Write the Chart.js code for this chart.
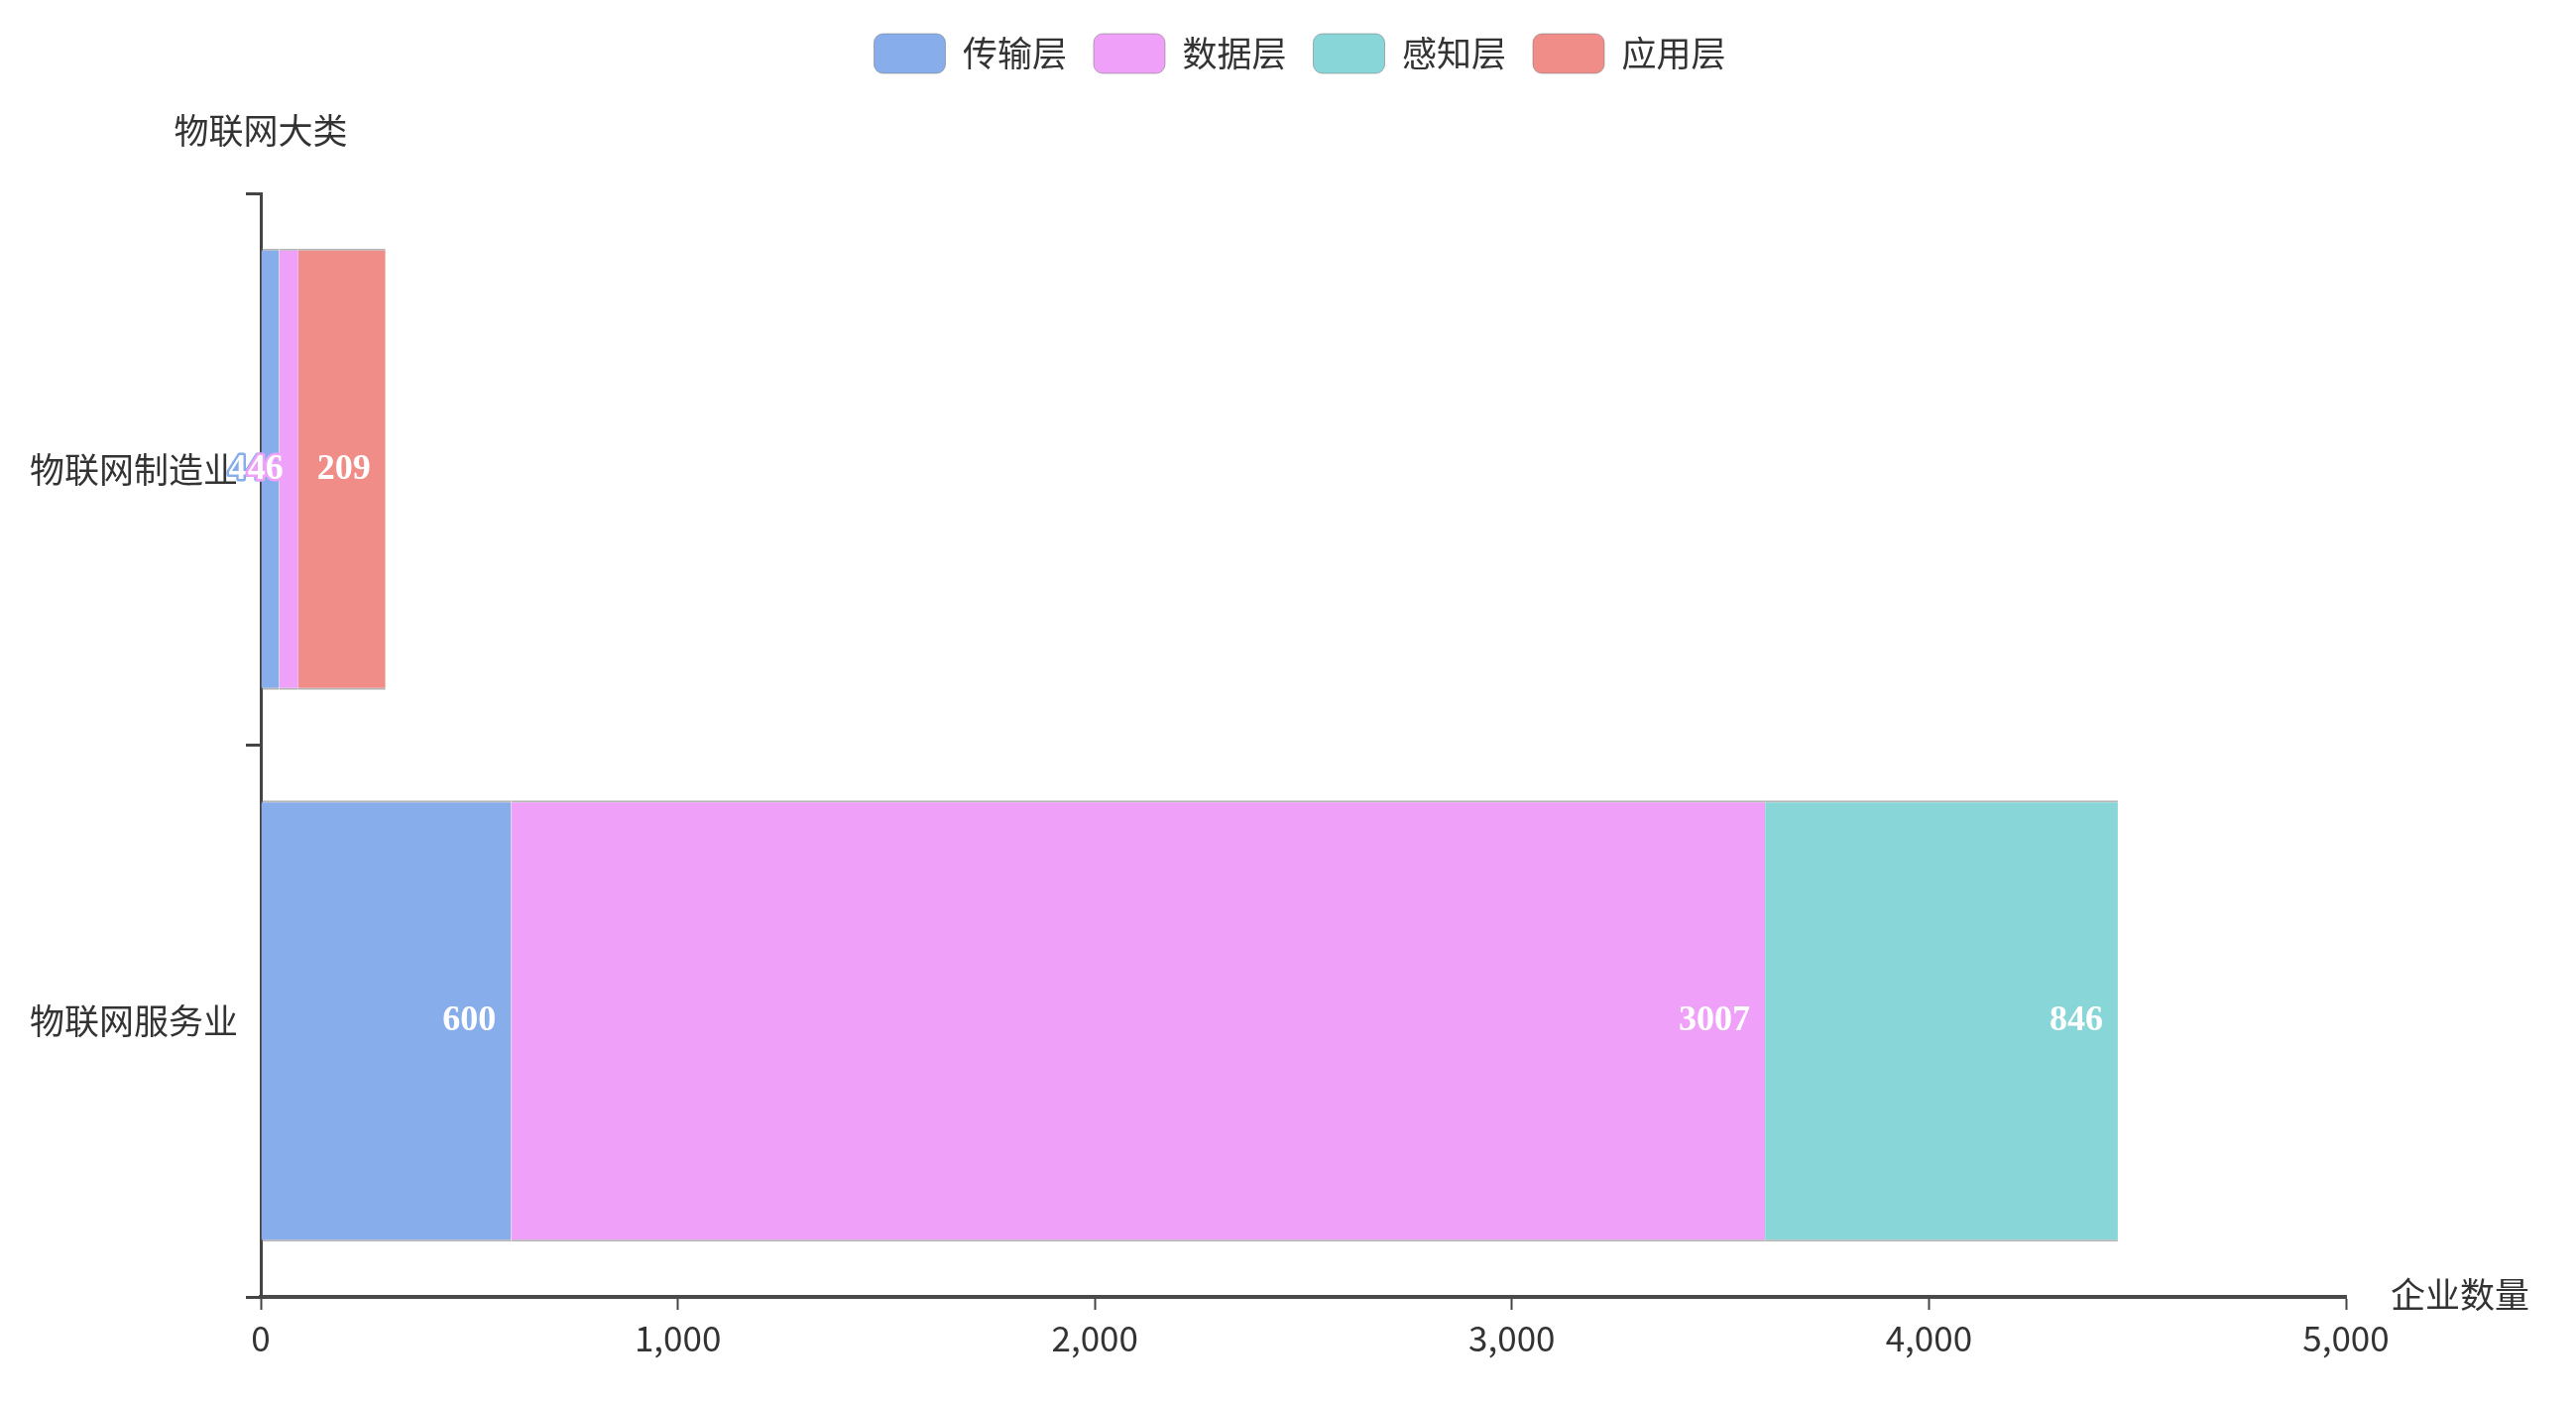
<!DOCTYPE html>
<html>
<head>
<meta charset="utf-8">
<script src="https://cdn.jsdelivr.net/npm/chart.js@4.4.1/dist/chart.umd.min.js"></script>
<style>
  html, body { margin: 0; padding: 0; background: #fff; }
  #wrap { width: 2598px; height: 1416px; }
</style>
</head>
<body>
<div id="wrap"><canvas id="iotChart"></canvas></div>
<script>
// categories and series (企业数量)
const categories = ['物联网制造业', '物联网服务业'];
const seriesNames = ['传输层', '数据层', '感知层', '应用层'];
const transport = [44, 600];
const dataLayer = [46, 3007];
const sensing = [null, 846];
const application = [209, null];
const xTicks = [0, 1000, 2000, 3000, 4000, 5000];

const colors = ['#87adeb', '#efa1f9', '#88d6d8', '#f08d88'];
const font = '"Noto Sans CJK SC", "Noto Sans", sans-serif';

// white value labels at the inside right end of each segment
const valueLabels = {
  id: 'valueLabels',
  afterDatasetsDraw(chart) {
    const ctx = chart.ctx;
    ctx.save();
    ctx.font = 'bold 36px "Liberation Serif", "DejaVu Serif", serif';
    ctx.textAlign = 'right';
    ctx.textBaseline = 'middle';
    ctx.lineJoin = 'round';
    chart.data.datasets.forEach((ds, i) => {
      chart.getDatasetMeta(i).data.forEach((bar, j) => {
        const v = ds.data[j];
        if (v == null) return;
        ctx.strokeStyle = colors[i];
        ctx.lineWidth = 5;
        ctx.strokeText(String(v), bar.x - 15, bar.y);
        ctx.fillStyle = '#fff';
        ctx.fillText(String(v), bar.x - 15, bar.y);
      });
    });
    ctx.restore();
  }
};

// axis names: above the y axis, right of the x axis
const axisNames = {
  id: 'axisNames',
  afterDraw(chart) {
    const { ctx, chartArea } = chart;
    ctx.save();
    ctx.font = '35px ' + font;
    ctx.fillStyle = '#333';
    ctx.textBaseline = 'middle';
    ctx.textAlign = 'center';
    ctx.fillText('物联网大类', chartArea.left, chartArea.top - 63);
    ctx.textAlign = 'left';
    ctx.fillText('企业数量', chartArea.right + 45, chartArea.bottom - 2);
    ctx.restore();
  }
};

// extra gap between legend and plot
const legendGap = {
  id: 'legendGap',
  beforeInit(chart) {
    const fit = chart.legend.fit;
    chart.legend.fit = function () {
      fit.call(this);
      this.height += 111;
    };
  }
};

const seriesValues = [transport, dataLayer, sensing, application];

new Chart(document.getElementById('iotChart'), {
  type: 'bar',
  data: {
    labels: categories,
    datasets: seriesNames.map((name, i) => ({
      label: name,
      data: seriesValues[i],
      backgroundColor: colors[i],
      borderColor: 'rgba(120,120,120,0.55)',
      borderWidth: { top: 2, bottom: 2, left: 0, right: 0 },
      borderSkipped: false,
      categoryPercentage: 0.8,
      barPercentage: 1.0
    }))
  },
  options: {
    indexAxis: 'y',
    responsive: true,
    maintainAspectRatio: false,
    animation: false,
    layout: { padding: { left: 24, right: 0, top: 7, bottom: 0 } },
    plugins: {
      legend: {
        position: 'top',
        labels: {
          font: { family: font, size: 35 },
          color: '#333',
          boxWidth: 72,
          boxHeight: 40,
          useBorderRadius: true,
          borderRadius: 9,
          padding: 27
        }
      },
      tooltip: { enabled: false }
    },
    scales: {
      x: {
        type: 'linear',
        stacked: true,
        min: 0,
        max: 5000,
        afterBuildTicks: scale => { scale.ticks = xTicks.map(v => ({ value: v })); },
        afterFit: scale => { scale.height = 108; },
        ticks: {
          font: { family: font, size: 35 },
          color: '#333',
          padding: 8,
          callback: v => v.toLocaleString('en-US')
        },
        grid: {
          drawOnChartArea: false,
          drawTicks: true,
          tickLength: 13,
          tickWidth: 2,
          tickColor: '#444'
        },
        border: { color: '#4a4a4a', width: 4 }
      },
      y: {
        stacked: true,
        offset: true,
        afterFit: scale => { scale.width = 239; },
        ticks: {
          font: { family: font, size: 35 },
          color: '#333',
          padding: 8
        },
        grid: {
          offset: true,
          drawOnChartArea: false,
          drawTicks: true,
          tickLength: 15,
          tickWidth: 3,
          tickColor: '#444'
        },
        border: { color: '#444', width: 3 }
      },
      // empty right-hand scale that only reserves room for the x axis name
      yRight: {
        type: 'category',
        position: 'right',
        afterFit: scale => { scale.width = 232; },
        ticks: { display: false },
        grid: { display: false },
        border: { display: false }
      }
    }
  },
  plugins: [valueLabels, axisNames, legendGap]
});
</script>
</body>
</html>
